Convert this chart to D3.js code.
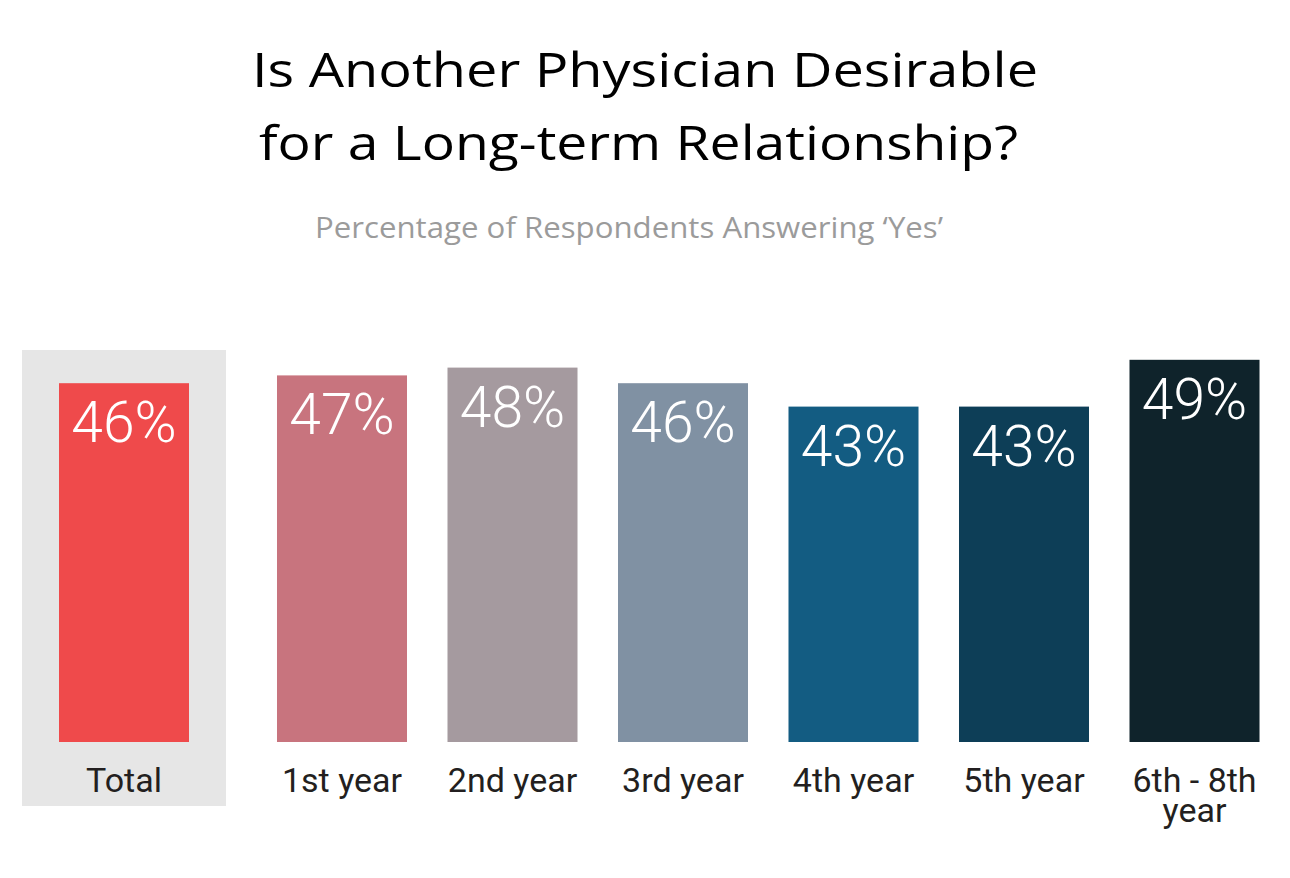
<!DOCTYPE html>
<html>
<head>
<meta charset="utf-8">
<script src="https://cdn.jsdelivr.net/npm/d3@7"></script>
<style>
  body { margin: 0; background: #fff; }
</style>
</head>
<body>
<div id="my_dataviz"></div>
<script>
// data
const totalLabel = "Total";
const totalValue = 46;
const years = ["1st year", "2nd year", "3rd year", "4th year", "5th year", "6th - 8th year"];
const yearValues = [47, 48, 46, 43, 43, 49];
const yearColors = ["#c8747e", "#a59a9f", "#8091a3", "#135c82", "#0d3e57", "#0f232b"];
const totalColor = "#ef4a4b";

const width = 1290, height = 878;

const svg = d3.select("#my_dataviz")
  .append("svg")
    .attr("width", width)
    .attr("height", height);

// scales
const y = d3.scaleLinear()
  .domain([0, 50])
  .range([742, 352]);

const x = d3.scaleBand()
  .domain(years)
  .range([236.5, 1300])
  .paddingInner(0.2375)
  .paddingOuter(0.2375);

const xTotal = d3.scaleBand()
  .domain([totalLabel])
  .range([22, 226])
  .paddingInner(0)
  .paddingOuter(0.2846);

// title, glyphs stretched to the width of the original wide face
const titleStyle = sel => sel
  .attr("lengthAdjust", "spacingAndGlyphs")
  .style("font-family", "Open Sans")
  .style("font-size", "47px")
  .style("fill", "#000");

svg.append("text")
  .attr("x", 252)
  .attr("y", 87)
  .attr("textLength", 786)
  .call(titleStyle)
  .text("Is Another Physician Desirable");

svg.append("text")
  .attr("x", 259)
  .attr("y", 160)
  .attr("textLength", 759)
  .call(titleStyle)
  .text("for a Long-term Relationship?");

svg.append("text")
  .attr("x", 315)
  .attr("y", 238)
  .attr("textLength", 628)
  .attr("lengthAdjust", "spacingAndGlyphs")
  .style("font-family", "Open Sans")
  .style("font-size", "29px")
  .style("fill", "#9b9b9b")
  .text("Percentage of Respondents Answering \u2018Yes\u2019");

// grey panel behind the total
svg.append("rect")
  .attr("x", 22)
  .attr("y", 350)
  .attr("width", 204)
  .attr("height", 456)
  .attr("fill", "#e6e6e6");

// total bar
svg.append("rect")
  .attr("x", xTotal(totalLabel))
  .attr("y", y(totalValue))
  .attr("width", xTotal.bandwidth())
  .attr("height", y(0) - y(totalValue))
  .attr("fill", totalColor);

// year bars
svg.selectAll(".bar")
  .data(years)
  .join("rect")
    .attr("class", "bar")
    .attr("x", d => x(d))
    .attr("y", (d, i) => y(yearValues[i]))
    .attr("width", x.bandwidth())
    .attr("height", (d, i) => y(0) - y(yearValues[i]))
    .attr("fill", (d, i) => yearColors[i]);

// value labels
const valueStyle = sel => sel
  .attr("text-anchor", "middle")
  .style("font-family", "Roboto")
  .style("font-weight", 300)
  .style("font-size", "57px")
  .style("fill", "#fff");

svg.append("text")
  .attr("x", xTotal(totalLabel) + xTotal.bandwidth() / 2)
  .attr("y", y(totalValue) + 59)
  .call(valueStyle)
  .text(totalValue + "%");

svg.selectAll(".val")
  .data(years)
  .join("text")
    .attr("class", "val")
    .attr("x", d => x(d) + x.bandwidth() / 2)
    .attr("y", (d, i) => y(yearValues[i]) + 59)
    .call(valueStyle)
    .text((d, i) => yearValues[i] + "%");

// category labels
const catStyle = sel => sel
  .attr("text-anchor", "middle")
  .style("font-family", "Roboto")
  .style("font-size", "34px")
  .style("fill", "#231f20");

svg.append("text")
  .attr("x", xTotal(totalLabel) + xTotal.bandwidth() / 2)
  .attr("y", 792)
  .call(catStyle)
  .text(totalLabel);

svg.selectAll(".cat")
  .data(years)
  .join("text")
    .attr("class", "cat")
    .attr("x", d => x(d) + x.bandwidth() / 2)
    .attr("y", 792)
    .call(catStyle)
    .each(function(d) {
      // wrap the long label onto two lines
      const lines = d === "6th - 8th year" ? ["6th - 8th", "year"] : [d];
      const t = d3.select(this);
      lines.forEach((l, k) => {
        t.append("tspan")
          .attr("x", x(d) + x.bandwidth() / 2)
          .attr("dy", k === 0 ? 0 : 30)
          .text(l);
      });
    });
</script>
</body>
</html>
